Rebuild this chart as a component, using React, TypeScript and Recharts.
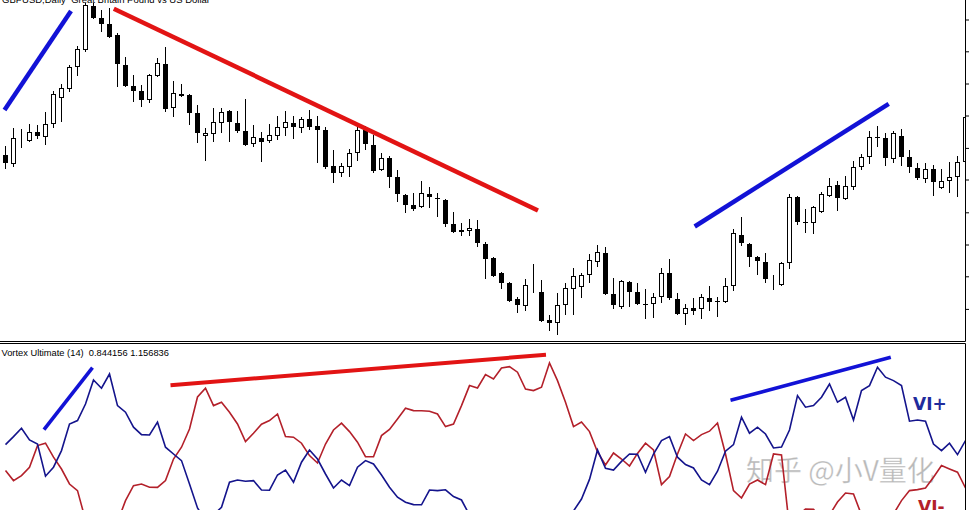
import React from 'react';
import { ComposedChart, Bar, Line, XAxis, YAxis, ReferenceLine, Customized } from 'recharts';

// ---- GBPUSD daily candles ----
const opens = [
  1.7225, 1.7180, 1.7300, 1.7295, 1.7340, 1.7315, 1.7380, 1.7510, 1.7555, 1.7665,
  1.7750, 1.7970, 1.7910, 1.7880, 1.7825, 1.7675, 1.7570, 1.7545, 1.7500, 1.7620,
  1.7680, 1.7460, 1.7530, 1.7525, 1.7435, 1.7320, 1.7330, 1.7385, 1.7445, 1.7385,
  1.7345, 1.7280, 1.7310, 1.7295, 1.7320, 1.7360, 1.7385, 1.7360, 1.7405, 1.7370,
  1.7350, 1.7170, 1.7135, 1.7165, 1.7235, 1.7350, 1.7275, 1.7150, 1.7210, 1.7115,
  1.7025, 1.6975, 1.6965, 1.7030, 1.7010, 1.7000, 1.6880, 1.6840, 1.6845, 1.6855,
  1.6780, 1.6710, 1.6635, 1.6585, 1.6505, 1.6470, 1.6570, 1.6540, 1.6400, 1.6385,
  1.6475, 1.6555, 1.6565, 1.6625, 1.6690, 1.6735, 1.6530, 1.6465, 1.6590, 1.6540,
  1.6480, 1.6480, 1.6515, 1.6635, 1.6505, 1.6430, 1.6460, 1.6455, 1.6510, 1.6495,
  1.6490, 1.6570, 1.6825, 1.6780, 1.6715, 1.6690, 1.6600, 1.6575, 1.6685, 1.7015,
  1.6890, 1.6885, 1.6940, 1.7020, 1.7075, 1.7005, 1.7065, 1.7165, 1.7215, 1.7315,
  1.7310, 1.7205, 1.7320, 1.7215, 1.7160, 1.7105, 1.7155, 1.7060, 1.7095, 1.7115,
  1.7190,
];
const highs = [
  1.7270, 1.7360, 1.7355, 1.7380, 1.7375, 1.7440, 1.7545, 1.7580, 1.7675, 1.7770,
  1.7985, 1.7985, 1.7950, 1.7960, 1.7835, 1.7715, 1.7625, 1.7575, 1.7630, 1.7710,
  1.7765, 1.7595, 1.7580, 1.7530, 1.7475, 1.7360, 1.7460, 1.7460, 1.7450, 1.7445,
  1.7505, 1.7375, 1.7340, 1.7380, 1.7420, 1.7445, 1.7420, 1.7415, 1.7450, 1.7420,
  1.7365, 1.7250, 1.7185, 1.7255, 1.7385, 1.7370, 1.7325, 1.7235, 1.7220, 1.7150,
  1.7030, 1.7035, 1.7095, 1.7065, 1.7035, 1.7005, 1.6940, 1.6885, 1.6905, 1.6900,
  1.6790, 1.6715, 1.6640, 1.6590, 1.6515, 1.6605, 1.6680, 1.6600, 1.6425, 1.6535,
  1.6585, 1.6660, 1.6635, 1.6730, 1.6775, 1.6765, 1.6610, 1.6600, 1.6595, 1.6585,
  1.6555, 1.6535, 1.6660, 1.6705, 1.6535, 1.6480, 1.6510, 1.6530, 1.6570, 1.6515,
  1.6610, 1.6855, 1.6915, 1.6785, 1.6720, 1.6735, 1.6625, 1.6690, 1.7030, 1.7020,
  1.6955, 1.6970, 1.7040, 1.7110, 1.7095, 1.7120, 1.7195, 1.7230, 1.7345, 1.7370,
  1.7335, 1.7345, 1.7355, 1.7250, 1.7185, 1.7185, 1.7175, 1.7155, 1.7190, 1.7220,
  1.7460,
];
const lows = [
  1.7155, 1.7165, 1.7260, 1.7290, 1.7305, 1.7275, 1.7360, 1.7390, 1.7540, 1.7620,
  1.7740, 1.7905, 1.7840, 1.7810, 1.7565, 1.7565, 1.7490, 1.7465, 1.7485, 1.7615,
  1.7440, 1.7415, 1.7515, 1.7375, 1.7285, 1.7195, 1.7290, 1.7335, 1.7290, 1.7335,
  1.7270, 1.7265, 1.7190, 1.7285, 1.7300, 1.7320, 1.7305, 1.7335, 1.7350, 1.7185,
  1.7155, 1.7085, 1.7115, 1.7115, 1.7195, 1.7250, 1.7135, 1.7145, 1.7060, 1.6990,
  1.6935, 1.6945, 1.6960, 1.6960, 1.6915, 1.6865, 1.6835, 1.6820, 1.6820, 1.6765,
  1.6605, 1.6615, 1.6555, 1.6490, 1.6435, 1.6445, 1.6535, 1.6390, 1.6345, 1.6325,
  1.6425, 1.6425, 1.6510, 1.6585, 1.6665, 1.6525, 1.6455, 1.6455, 1.6465, 1.6475,
  1.6405, 1.6410, 1.6485, 1.6500, 1.6425, 1.6375, 1.6425, 1.6405, 1.6445, 1.6415,
  1.6485, 1.6545, 1.6770, 1.6665, 1.6625, 1.6585, 1.6550, 1.6570, 1.6655, 1.6875,
  1.6835, 1.6830, 1.6935, 1.7015, 1.6945, 1.7000, 1.7050, 1.7150, 1.7180, 1.7265,
  1.7170, 1.7185, 1.7170, 1.7135, 1.7100, 1.7085, 1.7020, 1.7055, 1.7035, 1.7015,
  1.7175,
];
const closes = [
  1.7185, 1.7310, 1.7305, 1.7340, 1.7320, 1.7380, 1.7530, 1.7560, 1.7665, 1.7755,
  1.7975, 1.7910, 1.7880, 1.7815, 1.7680, 1.7570, 1.7545, 1.7500, 1.7625, 1.7685,
  1.7455, 1.7535, 1.7520, 1.7435, 1.7335, 1.7335, 1.7390, 1.7440, 1.7390, 1.7345,
  1.7275, 1.7315, 1.7290, 1.7325, 1.7365, 1.7390, 1.7365, 1.7405, 1.7365, 1.7350,
  1.7165, 1.7135, 1.7170, 1.7235, 1.7350, 1.7280, 1.7145, 1.7210, 1.7115, 1.7030,
  1.6975, 1.6955, 1.7035, 1.7015, 1.7005, 1.6880, 1.6840, 1.6850, 1.6860, 1.6785,
  1.6705, 1.6620, 1.6585, 1.6495, 1.6475, 1.6575, 1.6575, 1.6395, 1.6385, 1.6475,
  1.6560, 1.6620, 1.6625, 1.6700, 1.6740, 1.6530, 1.6475, 1.6595, 1.6540, 1.6480,
  1.6475, 1.6515, 1.6635, 1.6510, 1.6430, 1.6460, 1.6445, 1.6515, 1.6490, 1.6490,
  1.6570, 1.6835, 1.6785, 1.6715, 1.6695, 1.6605, 1.6605, 1.6685, 1.7015, 1.6890,
  1.6885, 1.6965, 1.7030, 1.7070, 1.7010, 1.7070, 1.7165, 1.7215, 1.7315, 1.7310,
  1.7210, 1.7335, 1.7215, 1.7165, 1.7110, 1.7155, 1.7090, 1.7095, 1.7115, 1.7190,
  1.7415,
];

// ---- Vortex Ultimate (14) ----
const viPlus = [
  1.102, 1.142, 1.184, 1.125, 1.105, 0.944, 0.989, 1.072, 1.205, 1.222,
  1.305, 1.425, 1.384, 1.455, 1.297, 1.264, 1.189, 1.152, 1.150, 1.214,
  1.089, 1.055, 1.022, 0.905, 0.785, 0.725, 0.750, 0.789, 0.914, 0.925,
  0.919, 0.922, 0.875, 0.874, 0.950, 0.975, 0.914, 1.014, 1.075, 1.030,
  0.955, 0.885, 0.925, 0.897, 0.989, 1.022, 1.005, 0.950, 0.889, 0.839,
  0.814, 0.802, 0.801, 0.875, 0.872, 0.876, 0.842, 0.825, 0.750, 0.700,
  0.650, 0.625, 0.600, 0.602, 0.625, 0.650, 0.675, 0.705, 0.725, 0.745,
  0.760, 0.770, 0.830, 0.928, 1.075, 0.984, 0.975, 1.018, 1.055, 1.054,
  0.964, 1.055, 1.122, 1.142, 1.039, 1.002, 0.985, 0.925, 0.902, 0.969,
  1.069, 1.102, 1.239, 1.159, 1.189, 1.155, 1.085, 1.090, 1.175, 1.347,
  1.289, 1.297, 1.339, 1.405, 1.314, 1.339, 1.225, 1.372, 1.397, 1.489,
  1.439, 1.422, 1.397, 1.219, 1.225, 1.219, 1.105, 1.072, 1.109, 1.052,
  1.122,
];
const viMinus = [
  0.972, 0.922, 0.947, 0.989, 1.097, 1.109, 1.039, 0.980, 0.905, 0.872,
  0.725, 0.650, 0.625, 0.648, 0.715, 0.822, 0.897, 0.905, 0.889, 0.888,
  0.922, 1.030, 1.089, 1.180, 1.340, 1.384, 1.297, 1.314, 1.264, 1.205,
  1.117, 1.159, 1.204, 1.222, 1.255, 1.142, 1.139, 1.109, 1.047, 1.010,
  1.105, 1.175, 1.209, 1.167, 1.114, 1.042, 1.041, 1.147, 1.178, 1.230,
  1.284, 1.272, 1.271, 1.269, 1.255, 1.192, 1.205, 1.297, 1.397, 1.385,
  1.452, 1.430, 1.485, 1.492, 1.464, 1.380, 1.372, 1.389, 1.510, 1.422,
  1.314, 1.192, 1.215, 1.167, 1.065, 1.000, 1.060, 1.030, 0.995, 1.058,
  1.109, 1.075, 0.902, 0.942, 1.055, 1.155, 1.122, 1.152, 1.169, 1.210,
  1.055, 0.872, 0.835, 0.905, 0.925, 0.902, 1.055, 1.050, 0.685, 0.745,
  0.780, 0.778, 0.735, 0.750, 0.815, 0.860, 0.855, 0.750, 0.705, 0.685,
  0.715, 0.755, 0.822, 0.872, 0.877, 0.885, 0.939, 0.997, 0.980, 0.964,
  0.885,
];

// price-axis tick values (labels are outside the picture)
const priceTicks = [1.7900, 1.7741, 1.7580, 1.7420, 1.7258, 1.7100, 1.6936, 1.6775, 1.6616, 1.6453];

// hand-drawn trend lines: [barFrom, valueFrom, barTo, valueTo]
const priceTrendBlue = [
  [-0.125, 1.7450, 8.1875, 1.7945],
  [86.15, 1.68675, 110.4, 1.7481],
];
const priceTrendRed = [[13.54, 1.79565, 66.56, 1.69475]];
const vortexTrendBlue = [
  [4.81, 1.1765, 10.875, 1.4865],
  [90.625, 1.3235, 110.66, 1.539],
];
const vortexTrendRed = [[20.625, 1.3985, 67.56, 1.5515]];

const rows = opens.map((o, i) => ({
  idx: i,
  open: o,
  high: highs[i],
  low: lows[i],
  close: closes[i],
  range: [lows[i], highs[i]],
  viPlus: viPlus[i],
  viMinus: viMinus[i],
}));

const X_DOMAIN: [number, number] = [-0.6875, 120];
const FONT = '"Liberation Sans", Arial, sans-serif';

function Candle(props: any) {
  const { x, y, width, height, payload } = props;
  if (!payload || height == null || !isFinite(y)) return null;
  const { open, close, high, low } = payload;
  const span = high - low || 1;
  const toY = (v: number) => y + ((high - v) / span) * height;
  const cx = Math.floor(x + width / 2) + 0.5;
  const yo = toY(open);
  const yc = toY(close);
  const top = Math.round(Math.min(yo, yc));
  const bot = Math.round(Math.max(yo, yc));
  const bull = close > open;
  return (
    <g>
      <line x1={cx} x2={cx} y1={y} y2={y + height} stroke="#000" strokeWidth={1} />
      {bull ? (
        <rect x={cx - 2} y={top + 0.5} width={4} height={Math.max(bot - top - 1, 0)} fill="#fff" stroke="#000" strokeWidth={1} />
      ) : (
        <rect x={cx - 2.5} y={top} width={5} height={Math.max(bot - top, 1)} fill="#000" />
      )}
    </g>
  );
}

const noTick = () => <g />;

const TitleText = () => (
  <text x={2} y={2.5} fontFamily={FONT} fontSize={9.5} fill="#000" style={{ whiteSpace: 'pre' }}>
    GBPUSD,Daily  Great Britain Pound vs US Dollar
  </text>
);

const VortexTexts = () => (
  <g>
    <text x={1.5} y={13.5} fontFamily={FONT} fontSize={9.3} fill="#000" style={{ whiteSpace: 'pre' }}>
      Vortex Ultimate (14)  0.844156 1.156836
    </text>
    <text x={913} y={67.5} fontFamily='"DejaVu Sans", sans-serif' fontWeight="bold" fontSize={17} fill="#1f2b9c">
      VI+
    </text>
    <text x={918} y={171} fontFamily='"DejaVu Sans", sans-serif' fontWeight="bold" fontSize={17} fill="#b3202a">
      VI-
    </text>
    <text x={746} y={139} fontFamily='"Noto Sans CJK SC", sans-serif' fontSize={28} fill="#a6a6a6" fillOpacity={0.8} stroke="#ffffff" strokeWidth={0.6} strokeOpacity={0.6}>
      知乎 @小V量化
    </text>
  </g>
);

const seg = (s: number[]) => [
  { x: s[0], y: s[1] },
  { x: s[2], y: s[3] },
];

export default function App() {
  return (
    <div style={{ position: 'absolute', left: 0, top: 0, width: 969, height: 510, overflow: 'hidden', background: '#fff' }}>
      <div style={{ position: 'absolute', left: 0, top: 0 }}>
        <ComposedChart width={969} height={342} data={rows} margin={{ top: 0, right: 0, bottom: 0, left: 0 }}>
          <XAxis
            dataKey="idx"
            type="number"
            domain={X_DOMAIN}
            allowDataOverflow
            height={0.5}
            tick={false}
            tickLine={false}
            axisLine={{ stroke: '#000' }}
          />
          <YAxis
            orientation="right"
            type="number"
            domain={[1.62925, 1.8]}
            allowDataOverflow
            width={3.5}
            ticks={priceTicks}
            interval={0}
            tick={noTick}
            tickSize={4}
            tickLine={{ stroke: '#000' }}
            axisLine={{ stroke: '#000' }}
          />
          <Bar dataKey="range" barSize={5} shape={Candle} isAnimationActive={false} />
          {priceTrendRed.map((s, i) => (
            <ReferenceLine key={'pr' + i} segment={seg(s)} stroke="#e21414" strokeWidth={4.5} ifOverflow="visible" />
          ))}
          {priceTrendBlue.map((s, i) => (
            <ReferenceLine key={'pb' + i} segment={seg(s)} stroke="#1212d6" strokeWidth={4.5} ifOverflow="visible" />
          ))}
          <Customized component={TitleText} />
        </ComposedChart>
      </div>
      <div style={{ position: 'absolute', left: 0, top: 342 }}>
        <ComposedChart width={969} height={168} data={rows} margin={{ top: 0, right: 0, bottom: 0, left: 0 }}>
          <XAxis
            dataKey="idx"
            type="number"
            orientation="top"
            domain={X_DOMAIN}
            allowDataOverflow
            height={1.5}
            tick={false}
            tickLine={false}
            axisLine={{ stroke: '#000' }}
          />
          <YAxis
            orientation="right"
            type="number"
            domain={[0.775, 1.6075]}
            allowDataOverflow
            width={3.5}
            tick={false}
            tickLine={false}
            axisLine={{ stroke: '#000' }}
          />
          <Line dataKey="viMinus" type="linear" stroke="#b3202a" strokeWidth={1.6} dot={false} activeDot={false} isAnimationActive={false} />
          <Line dataKey="viPlus" type="linear" stroke="#14148c" strokeWidth={1.6} dot={false} activeDot={false} isAnimationActive={false} />
          {vortexTrendRed.map((s, i) => (
            <ReferenceLine key={'vr' + i} segment={seg(s)} stroke="#e21414" strokeWidth={4} ifOverflow="visible" />
          ))}
          {vortexTrendBlue.map((s, i) => (
            <ReferenceLine key={'vb' + i} segment={seg(s)} stroke="#1212d6" strokeWidth={3.6} ifOverflow="visible" />
          ))}
          <Customized component={VortexTexts} />
        </ComposedChart>
      </div>
    </div>
  );
}
